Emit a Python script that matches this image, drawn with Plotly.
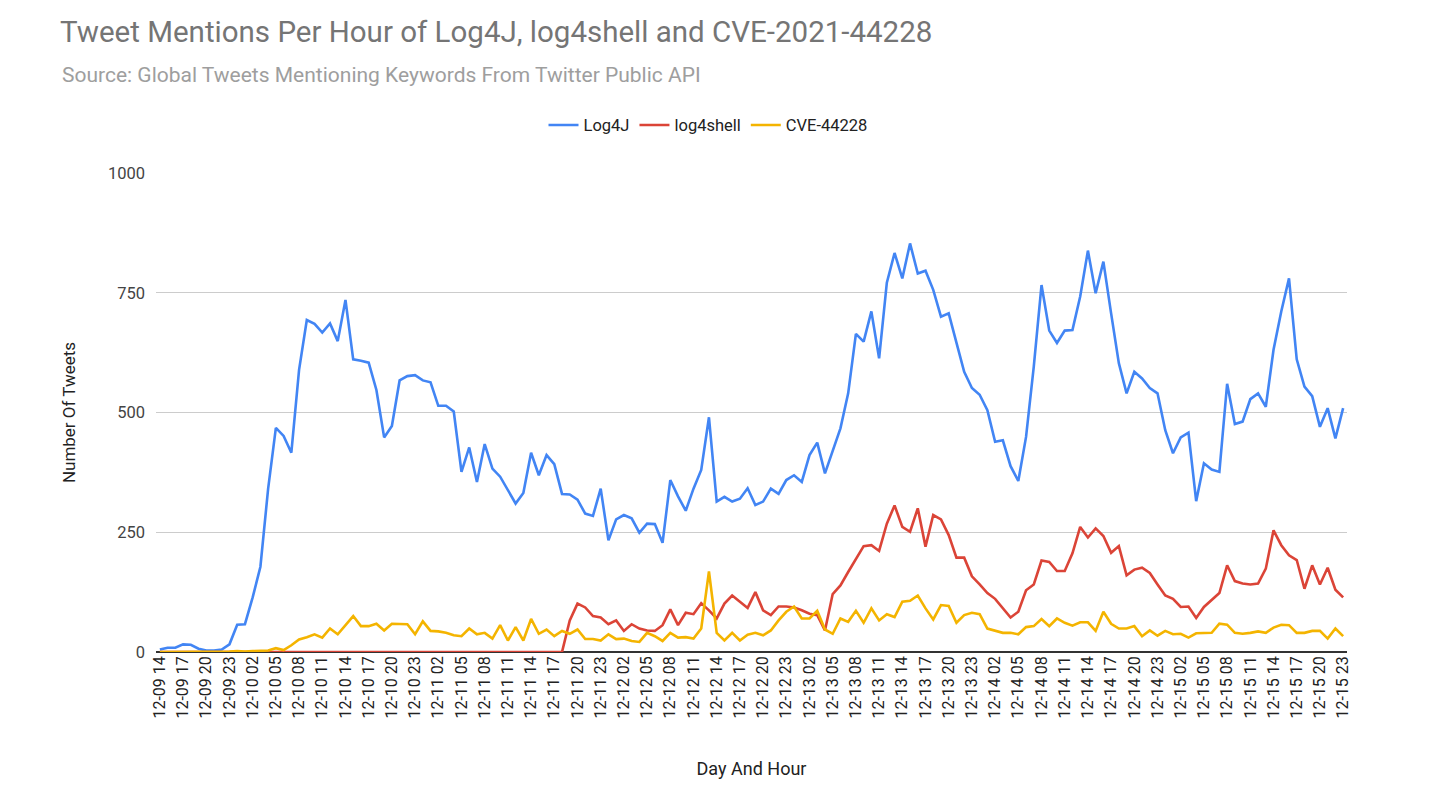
import plotly.graph_objects as go

# Categories: hourly labels from 12-09 14 to 12-15 23
DAYS = ["12-09", "12-10", "12-11", "12-12", "12-13", "12-14", "12-15"]
FIRST_HOUR = 14
hours = [f"{d} {h:02d}" for di, d in enumerate(DAYS) for h in range(24) if not (di == 0 and h < FIRST_HOUR)]

log4j = [5, 9, 9, 16, 15, 7, 3, 3, 5, 16,
         57, 58, 114, 178, 341, 468, 451, 416, 589, 693,
         685, 667, 686, 649, 735, 611, 608, 604, 547, 448,
         472, 567, 576, 578, 567, 563, 514, 514, 502, 376,
         427, 355, 434, 383, 366, 338, 310, 332, 416, 369,
         411, 392, 330, 329, 318, 289, 284, 341, 233, 277,
         286, 279, 249, 268, 267, 228, 359, 325, 295, 341,
         380, 490, 314, 324, 314, 320, 342, 307, 314, 341,
         330, 359, 369, 355, 411, 437, 373, 420, 467, 540,
         664, 648, 711, 613, 771, 833, 780, 853, 790, 796,
         756, 700, 707, 646, 585, 551, 537, 505, 439, 442,
         388, 357, 449, 596, 766, 671, 645, 671, 672, 742,
         838, 749, 815, 707, 603, 540, 585, 571, 551, 540,
         463, 415, 448, 458, 315, 394, 381, 376, 560, 476,
         481, 528, 540, 512, 631, 711, 780, 611, 554, 534,
         470, 509, 446, 509]

log4shell = [0] * 53 + [
    66, 101, 93, 75, 72, 58, 66,
    44, 58, 49, 45, 44, 56, 89, 56, 82, 79,
    102, 87, 70, 101, 118, 105, 92, 125, 87, 77,
    95, 95, 93, 87, 80, 77, 45, 121, 139, 167,
    195, 221, 223, 211, 268, 306, 261, 251, 300, 220,
    286, 277, 244, 197, 197, 158, 141, 123, 111, 91,
    72, 84, 129, 141, 191, 188, 169, 169, 206, 261,
    239, 258, 242, 207, 221, 160, 172, 176, 165, 141,
    118, 111, 94, 95, 71, 94, 109, 123, 181, 148,
    143, 141, 143, 174, 254, 223, 202, 192, 132, 181,
    141, 176, 130, 114]

cve44228 = [0, 0, 0, 0, 1, 0, 0, 0, 0, 1,
            2, 1, 2, 2, 3, 8, 4, 14, 26, 31,
            37, 30, 49, 37, 56, 75, 54, 54, 59, 45,
            59, 58, 58, 37, 64, 44, 43, 40, 35, 33,
            49, 37, 40, 28, 56, 24, 52, 24, 69, 38,
            47, 33, 44, 38, 47, 27, 27, 24, 37, 27,
            28, 23, 21, 40, 33, 23, 40, 30, 31, 28,
            49, 168, 40, 24, 40, 24, 36, 40, 35, 45,
            66, 84, 95, 70, 70, 86, 47, 38, 70, 63,
            86, 61, 91, 66, 79, 73, 105, 107, 118, 91,
            68, 98, 96, 61, 77, 82, 79, 49, 45, 40,
            40, 37, 52, 54, 69, 54, 70, 61, 55, 62,
            62, 44, 84, 59, 49, 49, 54, 33, 45, 34,
            44, 37, 38, 30, 39, 40, 40, 59, 57, 40,
            38, 40, 43, 40, 51, 57, 56, 40, 40, 44,
            44, 28, 49, 33]

series_names = ["Log4J", "log4shell", "CVE-44228"]
series_colors = ["#4285F4", "#DB4437", "#F4B400"]
y_ticks = [0, 250, 500, 750, 1000]
x_tick_labels = hours[::3]

TITLE = "Tweet Mentions Per Hour of Log4J, log4shell and CVE-2021-44228"
SUBTITLE = "Source: Global Tweets Mentioning Keywords From Twitter Public API"

FONT = "Roboto, Arial, sans-serif"
W, H = 1432, 798   # page body has an 8px margin
L, T = 148, 165
PW, PH = 1191, 479

fig = go.Figure()
for name, vals, col in zip(series_names, [log4j, log4shell, cve44228], series_colors):
    fig.add_trace(go.Scatter(x=hours, y=vals, mode="lines", name=name,
                             line=dict(color=col, width=2.6)))

fig.update_layout(
    width=W, height=H,
    paper_bgcolor="white", plot_bgcolor="white",
    font=dict(family=FONT, color="#222222"),
    margin=dict(l=L, r=W - L - PW, t=T, b=H - T - PH, autoexpand=False),
    title=dict(
        text=TITLE,
        font=dict(size=29.5, color="#757575", family=FONT),
        x=(60 - 8) / W, xanchor="left", xref="container",
        y=1 - (32 - 8) / H, yanchor="middle", yref="container",
    ),
    annotations=[dict(
        text=SUBTITLE, xref="paper", yref="paper",
        x=(60 - 156) / PW, xanchor="left",
        y=(651.7 - 75) / PH, yanchor="middle",
        showarrow=False, font=dict(size=21, color="#9e9e9e", family=FONT),
    )],
    legend=dict(orientation="h", x=(708 - 156) / PW, xanchor="center",
                y=(651.7 - 125) / PH, yanchor="middle",
                font=dict(size=16.5, color="#222222"), traceorder="normal"),
    showlegend=True,
    hovermode="x",
)

fig.update_xaxes(
    type="category", range=[-0.5, len(hours) - 0.5],
    tickmode="array", tickvals=x_tick_labels, ticktext=x_tick_labels,
    tickangle=-90, tickfont=dict(size=16, color="#222222"),
    showgrid=False, ticks="", showline=False,
    title=dict(text="Day And Hour", font=dict(size=18, color="#222222"), standoff=44),
)
fig.update_yaxes(
    range=[0, 1000], tickvals=y_ticks,
    tickfont=dict(size=16.5, color="#444444"),
    showgrid=True, gridcolor="#cccccc", gridwidth=1,
    zeroline=True, zerolinecolor="#333333", zerolinewidth=1.5,
    ticks="", ticklabelstandoff=10,
    title=dict(text="Number Of Tweets", font=dict(size=17, color="#222222"), standoff=27),
)

fig.write_html("out.html")
